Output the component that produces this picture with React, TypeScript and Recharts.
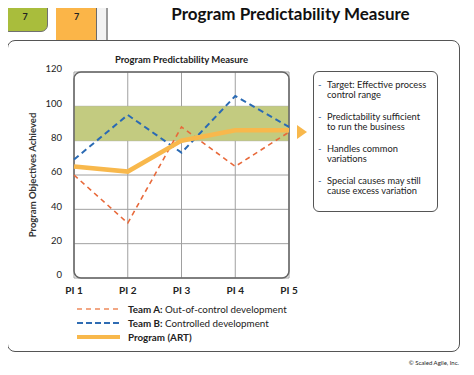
import React from "react";
import {
  LineChart,
  Line,
  XAxis,
  YAxis,
  CartesianGrid,
  ReferenceArea,
  Rectangle,
} from "recharts";

const categories = ["PI 1", "PI 2", "PI 3", "PI 4", "PI 5"];
const teamA = [60, 32, 88, 65, 85];
const teamB = [69, 95, 73, 106, 88];
const program = [65, 62, 80, 86, 86];
const yTicks = [0, 20, 40, 60, 80, 100, 120];
const bandLow = 80;
const bandHigh = 100;

const calloutItems = [
  ["Target: Effective process", "control range"],
  ["Predictability sufficient", "to run the business"],
  ["Handles common", "variations"],
  ["Special causes may still", "cause excess variation"],
];

const legendItems = [
  { bold: "Team A:", rest: " Out-of-control development", color: "#ee8a5c", dash: "5 4", width: 1.5 },
  { bold: "Team B:", rest: " Controlled development", color: "#2f6cb3", dash: "6 3", width: 2 },
  { bold: "Program (ART)", rest: "", color: "#f8b84c", dash: undefined, width: 4 },
];

const data = categories.map((c, i) => ({
  name: c,
  teamA: teamA[i],
  teamB: teamB[i],
  program: program[i],
}));

const FONT = "Lato, 'Open Sans', sans-serif";

const RoundedFrame = (props: any) => (
  <Rectangle {...props} fill="none" stroke="#666" strokeWidth={1.5} radius={7} />
);

export default function App() {
  return (
    <div
      style={{
        position: "relative",
        width: 474,
        height: 375,
        margin: -8,
        background: "#ffffff",
        fontFamily: FONT,
        overflow: "hidden",
      }}
    >
      {/* Tabs */}
      <div
        style={{
          position: "absolute",
          left: 2,
          top: -6,
          width: 46,
          height: 38,
          background: "#a9bd3c",
          border: "1px solid #707070",
          borderRadius: "0 0 7px 7px",
          boxSizing: "border-box",
        }}
      />
      <div style={{ position: "absolute", left: 2, top: 11, width: 46, textAlign: "center", fontSize: 9, fontWeight: 700, color: "#222" }}>7</div>
      <div
        style={{
          position: "absolute",
          left: 56,
          top: 0,
          width: 41,
          height: 41,
          background: "#fbb548",
          borderRight: "1.5px solid #6a6a6a",
          boxSizing: "border-box",
        }}
      />
      <div style={{ position: "absolute", left: 56, top: 11, width: 41, textAlign: "center", fontSize: 9, fontWeight: 700, color: "#222" }}>7</div>
      <div style={{ position: "absolute", left: 97, top: 0, width: 10, height: 40, background: "#f2f2f2" }} />
      <div style={{ position: "absolute", left: 106, top: 0, width: 1.5, height: 40, background: "#9a9a9a" }} />
      <div style={{ position: "absolute", left: 0, top: 137, width: 8, height: 1, background: "#888" }} />

      {/* Main title */}
      <div
        style={{
          position: "absolute",
          left: 107,
          width: 367,
          top: 3,
          textAlign: "center",
          fontSize: 17,
          fontWeight: 700,
          color: "#111",
        }}
      >
        Program Predictability Measure
      </div>

      {/* Outer box */}
      <div
        style={{
          position: "absolute",
          left: 7,
          top: 40,
          width: 453,
          height: 312,
          border: "1.5px solid #555",
          borderRadius: 8,
          boxSizing: "border-box",
          background: "#fff",
        }}
      />

      {/* Chart title */}
      <div
        style={{
          position: "absolute",
          left: 74,
          width: 215,
          top: 54,
          textAlign: "center",
          fontSize: 9.5,
          fontWeight: 700,
          color: "#222",
        }}
      >
        Program Predictability Measure
      </div>

      {/* Y axis title */}
      <div
        style={{
          position: "absolute",
          left: 32,
          top: 175,
          transform: "translate(-50%, -50%) rotate(-90deg)",
          whiteSpace: "nowrap",
          fontSize: 9.5,
          fontWeight: 700,
          color: "#333",
        }}
      >
        Program Objectives Achieved
      </div>

      <div style={{ position: "absolute", left: 0, top: 0 }}>
        <LineChart
          width={474}
          height={375}
          data={data}
          margin={{ top: 72, right: 185, bottom: 67, left: 34 }}
        >
          <ReferenceArea
            y1={bandLow}
            y2={bandHigh}
            fill="#c3cb80"
            fillOpacity={1}
            stroke="none"
          />
          <CartesianGrid stroke="#a0a0a0" strokeWidth={1} />
          <XAxis
            dataKey="name"
            padding={{ left: 0, right: 0 }}
            axisLine={false}
            tickLine={false}
            height={30}
            tickMargin={3}
            tick={{ fontSize: 10, fontWeight: 700, fill: "#222", fontFamily: FONT }}
            interval={0}
          />
          <YAxis
            domain={[0, 120]}
            ticks={yTicks}
            width={40}
            axisLine={false}
            tickLine={false}
            tickMargin={6}
            tick={{ fontSize: 9.5, fill: "#222", fontFamily: FONT, dy: -3 }}
            interval={0}
          />
          <Line
            dataKey="teamA"
            stroke="#e8693a"
            strokeWidth={1.6}
            strokeDasharray="5 4"
            dot={false}
            isAnimationActive={false}
          />
          <Line
            dataKey="teamB"
            stroke="#2a6ab4"
            strokeWidth={2}
            strokeDasharray="6 4"
            dot={false}
            isAnimationActive={false}
          />
          <Line
            dataKey="program"
            stroke="#f8b84c"
            strokeWidth={4.5}
            dot={false}
            isAnimationActive={false}
          />
          <ReferenceArea
            x1="PI 1"
            x2="PI 5"
            y1={0}
            y2={120}
            shape={RoundedFrame}
          />
        </LineChart>
      </div>

      {/* Arrow */}
      <svg style={{ position: "absolute", left: 296, top: 124 }} width={12} height={16}>
        <polygon points="1,1 11,8 1,15" fill="#f8b84c" />
      </svg>

      {/* Callout box */}
      <div
        style={{
          position: "absolute",
          left: 313,
          top: 71,
          width: 125,
          height: 141,
          border: "1.3px solid #555",
          borderRadius: 6,
          boxSizing: "border-box",
          padding: "8px 2px 0 4px",
          fontSize: 9.3,
          lineHeight: "10px",
          color: "#222",
        }}
      >
        {calloutItems.map((lines, i) => (
          <div key={i} style={{ display: "flex", marginBottom: 12 }}>
            <span style={{ width: 9, flex: "none", color: "#2a5a94" }}>-</span>
            <span style={{ whiteSpace: "nowrap" }}>
              {lines[0]}
              <br />
              {lines[1]}
            </span>
          </div>
        ))}
      </div>

      {/* Legend */}
      <div style={{ position: "absolute", left: 77, top: 302, fontSize: 9.8, color: "#222" }}>
        {legendItems.map((it, i) => (
          <div key={i} style={{ display: "flex", alignItems: "center", height: 14 }}>
            <svg width={43} height={8} style={{ marginRight: 8 }}>
              <line
                x1={0}
                y1={4}
                x2={43}
                y2={4}
                stroke={it.color}
                strokeWidth={it.width}
                strokeDasharray={it.dash}
              />
            </svg>
            <span>
              <b>{it.bold}</b>
              {it.rest}
            </span>
          </div>
        ))}
      </div>

      {/* Copyright */}
      <div
        style={{
          position: "absolute",
          right: 15,
          top: 359,
          fontSize: 6,
          color: "#222",
        }}
      >
        © Scaled Agile, Inc.
      </div>
    </div>
  );
}
